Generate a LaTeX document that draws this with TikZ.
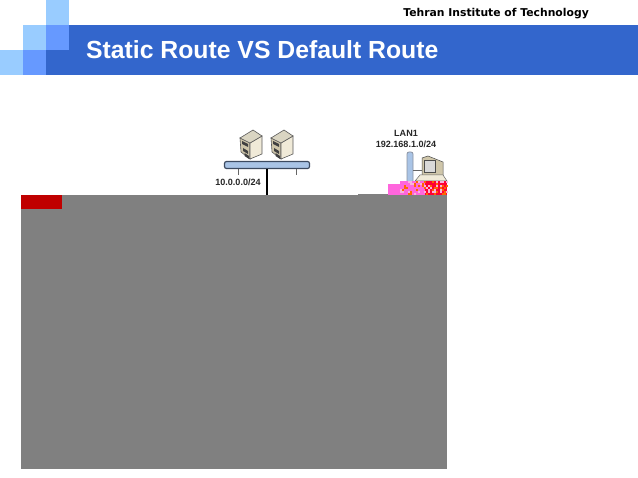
\documentclass[tikz,border=0pt]{standalone}
\usepackage{fontspec}
\setmainfont{Liberation Sans}
\newfontfamily\tagfont{DejaVu Sans}
\usetikzlibrary{positioning, calc}
\definecolor{bandblue}{HTML}{3366CC}
\definecolor{midblue}{HTML}{6699FF}
\definecolor{paleblue}{HTML}{99CCFF}
\definecolor{busblue}{HTML}{A9C4E6}
\definecolor{busline}{HTML}{3C4A60}
\definecolor{boxgray}{HTML}{808080}
\definecolor{boxred}{HTML}{C00000}
\definecolor{casefront}{HTML}{F0EAD8}
\definecolor{caseside}{HTML}{CFC6AA}
\definecolor{casetop}{HTML}{DAD5C2}
\definecolor{casepink}{HTML}{FF66DD}
\tikzset{
  tile/.style={minimum width=23bp, minimum height=25bp, inner sep=0pt, outer sep=0pt, draw=none},
  netlabel/.style={font=\fontsize{9.1}{10}\selectfont\bfseries, text=black!85, inner sep=0pt},
  busbar/.style={draw=busline, fill=busblue, line width=1.2pt, rounded corners=2bp},
  servercase/.pic={
    \fill[caseside, draw=black!65, line width=.6pt] (0,0) -- (10,5) -- (10,21) -- (1,14) -- cycle;
    \fill[casefront, draw=black!65, line width=.6pt] (10,5) -- (22,-2) -- (22,16) -- (10,21) -- cycle;
    \fill[casetop, draw=black!65, line width=.6pt] (0,0) -- (13,-8) -- (22,-2) -- (10,5) -- cycle;
    \fill[black!75] (2,3) -- (8,6) -- (8,9) -- (2,6) -- cycle;
    \fill[black!75] (3,10) -- (8,13) -- (8,16) -- (3,13) -- cycle;
    \fill[black!75] (4.5,15) -- (9,18) -- (9,21) -- (4.5,18) -- cycle;
  }
}
\begin{document}
\begin{tikzpicture}[x=1bp, y=-1bp]
  \useasboundingbox (0,0) rectangle (638,478);
  % header
  \fill[bandblue] (69,25) rectangle (638,75);
  \fill[bandblue] (46,50) rectangle (69,75);
  \node (tileA) [tile, anchor=north west, fill=paleblue] at (46,0) {};
  \node (tileB) [tile, below=0pt of tileA, fill=midblue] {};
  \node (tileC) [tile, left=0pt of tileB, fill=paleblue] {};
  \node (tileD) [tile, below=0pt of tileC, fill=midblue] {};
  \node (tileE) [tile, left=0pt of tileD, fill=paleblue] {};
  \node (title) [anchor=west, text=white, inner sep=0pt, font=\fontsize{24.85}{26}\selectfont\bfseries] at (86,50) {Static Route VS Default Route};
  \node (school) [anchor=east, inner sep=0pt, font=\fontsize{10.85}{12}\selectfont\tagfont\bfseries] at (589,14) {Tehran Institute of Technology};
  % servers
  \pic at (240,138) {servercase};
  \pic at (271,138) {servercase};
  \node (bus) [busbar, minimum width=85bp, minimum height=7bp, inner sep=0pt] at (267,165) {};
  \node (subnet) [netlabel] at (238,182) {10.0.0.0/24};
  \coordinate (tickA) at (238,175);
  \coordinate (tickB) at (296,175);
  \coordinate (drop) at (267,196);
  \draw[black!60, line width=.6pt] (bus.south -| tickA) -- (tickA);
  \draw[black!60, line width=.6pt] (bus.south -| tickB) -- (tickB);
  \draw[black, line width=1.2pt] (bus.south) -- (drop);
  % LAN1
  \node (lanname) [netlabel] at (406,133) {LAN1};
  \node (lannet) [netlabel, below=4pt of lanname] {192.168.1.0/24};
  \node (lanbus) [busbar, minimum width=6bp, minimum height=44bp, inner sep=0pt, draw=busline!60, line width=.8pt] at (410,174) {};
  \fill[caseside, draw=black!70, line width=.5pt] (422,158) -- (428,156) -- (443,162) -- (443,178) -- (422,178) -- cycle;
  \fill[black!15, draw=black!70, line width=.5pt] (424,160) rectangle (435,172);
  \fill[casefront, draw=black!60, line width=.5pt] (415,181) -- (420,175) -- (443,175) -- (447,181) -- cycle;
  \draw[black!60, line width=.6pt] (lanbus.east |- 0,170) -- (422,170);
  % covered part
  \fill[boxgray] (21,195) rectangle (447,469);
  \fill[boxred] (21,195) rectangle (62,209);
  \fill[casepink] (388,184) rectangle (412,195);
  \fill[casepink] (400,181) rectangle (425,195);
  \fill[red!80!magenta] (425,181) rectangle (447,195);
  \pgfmathsetseed{7}
  \foreach \spotx in {0,2,...,46} {
    \foreach \spoty in {0,2,...,12} {
      \pgfmathsetmacro{\spotmix}{int(random(0,4))}
      \ifnum\spotmix=0
        \fill[white!70!magenta] (400+\spotx,181+\spoty) rectangle ++(2,2);
      \fi
      \ifnum\spotmix=1
        \fill[orange!80!red] (400+\spotx,181+\spoty) rectangle ++(2,2);
      \fi
    }
  }
  \fill[boxgray] (358,194) rectangle (388,196);
\end{tikzpicture}
\end{document}
